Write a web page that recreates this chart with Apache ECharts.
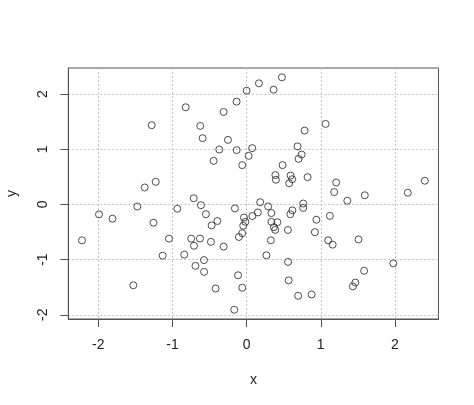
<!DOCTYPE html>
<html><head><meta charset="utf-8">
<script src="https://cdn.jsdelivr.net/npm/echarts@6/dist/echarts.min.js"></script>
<style>html,body{margin:0;padding:0;background:#fff}#c{width:474px;height:405px}</style>
</head><body><div id="c"></div>
<script>
const xVals = [0.166,0.000,-0.135,-0.822,-0.310,-1.280,-0.625,-0.593,-0.252,-0.369,
-0.135,0.075,0.027,-0.445,-0.059,-1.226,-1.375,-0.714,0.476,0.364,
1.065,0.782,0.687,0.741,0.701,0.485,0.388,0.395,0.593,0.615,
0.574,0.822,1.208,1.181,1.358,1.594,2.174,2.403,0.183,-1.991,
-1.809,-1.474,-0.935,-0.616,-0.549,-1.256,-0.158,-0.036,0.078,0.152,
-0.394,-0.472,-0.016,-0.046,-0.059,-0.104,-2.220,-1.047,-0.747,-0.629,
-0.710,-0.481,-0.310,-1.132,-0.841,-0.575,-0.690,-0.573,-0.115,-1.528,
-0.418,-0.059,-0.167,0.291,0.763,0.763,0.617,0.590,0.334,0.334,
0.415,0.368,0.385,0.557,0.327,0.267,0.559,0.567,0.695,0.877,
1.123,0.941,0.920,1.100,1.160,1.509,1.978,1.585,1.466,1.433];
const yVals = [2.195,2.061,1.863,1.761,1.676,1.436,1.423,1.201,1.170,0.995,
0.984,1.020,0.881,0.790,0.712,0.410,0.307,0.112,2.304,2.080,
1.459,1.338,1.052,0.904,0.826,0.712,0.532,0.447,0.524,0.456,
0.383,0.495,0.398,0.224,0.067,0.166,0.212,0.429,0.040,-0.181,
-0.259,-0.038,-0.078,-0.014,-0.177,-0.331,-0.072,-0.237,-0.210,-0.145,
-0.300,-0.380,-0.316,-0.385,-0.521,-0.590,-0.651,-0.620,-0.620,-0.617,
-0.750,-0.678,-0.765,-0.928,-0.910,-1.009,-1.114,-1.222,-1.284,-1.465,
-1.524,-1.510,-1.908,-0.036,0.016,-0.063,-0.108,-0.177,-0.156,-0.316,
-0.322,-0.412,-0.461,-0.463,-0.651,-0.922,-1.042,-1.376,-1.656,-1.633,
-0.208,-0.277,-0.503,-0.651,-0.729,-0.635,-1.069,-1.203,-1.416,-1.485];
const xTicks = [-2,-1,0,1,2];
const yTicks = [-2,-1,0,1,2];
const xName = 'x';
const yName = 'y';

function padRange(v){
  const mn = Math.min.apply(null, v), mx = Math.max.apply(null, v);
  const p = 0.04 * (mx - mn);
  return [mn - p, mx + p];
}
const xr = padRange(xVals), yr = padRange(yVals);
const pts = xVals.map((x, i) => [x, yVals[i]]);

const font = 'Liberation Sans, Arial, Helvetica, sans-serif';
const axisCol = '#555';
const txtCol = '#222';
const gridLine = {show: true, lineStyle: {color: '#c4c4c4', type: [2, 2], width: 1}};

const chart = echarts.init(document.getElementById('c'), null, {renderer: 'canvas'});
chart.setOption({
  animation: false,
  backgroundColor: '#fff',
  grid: {left: 68.3, top: 68, right: 35.5, bottom: 86, show: true,
         borderColor: axisCol, borderWidth: 1, backgroundColor: 'transparent',
         containLabel: false, outerBoundsMode: 'none'},
  xAxis: {
    type: 'value', min: xr[0], max: xr[1], position: 'bottom',
    name: xName, nameLocation: 'middle', nameGap: 54,
    nameTextStyle: {fontFamily: font, fontSize: 14, color: txtCol},
    axisLine: {show: true, onZero: false, lineStyle: {color: axisCol, width: 1}},
    axisTick: {show: true, length: 8, inside: false, customValues: xTicks, lineStyle: {color: axisCol}},
    axisLabel: {customValues: xTicks, margin: 19, fontFamily: font, fontSize: 14, color: txtCol},
    splitLine: gridLine
  },
  yAxis: {
    type: 'value', min: yr[0], max: yr[1], position: 'left',
    name: yName, nameLocation: 'middle', nameGap: 49, nameRotate: 90,
    nameTextStyle: {fontFamily: font, fontSize: 14, color: txtCol},
    axisLine: {show: true, onZero: false, lineStyle: {color: axisCol, width: 1}},
    axisTick: {show: true, length: 8, inside: false, customValues: yTicks, lineStyle: {color: axisCol}},
    axisLabel: {customValues: yTicks, rotate: 90, margin: 18, fontFamily: font, fontSize: 14, color: txtCol},
    splitLine: gridLine
  },
  series: [{
    type: 'scatter',
    data: pts,
    symbol: 'circle',
    symbolSize: 7,
    itemStyle: {color: 'rgba(0,0,0,0)', borderColor: '#222', borderWidth: 1},
    emphasis: {disabled: true}
  }]
});
</script>
</body></html>
